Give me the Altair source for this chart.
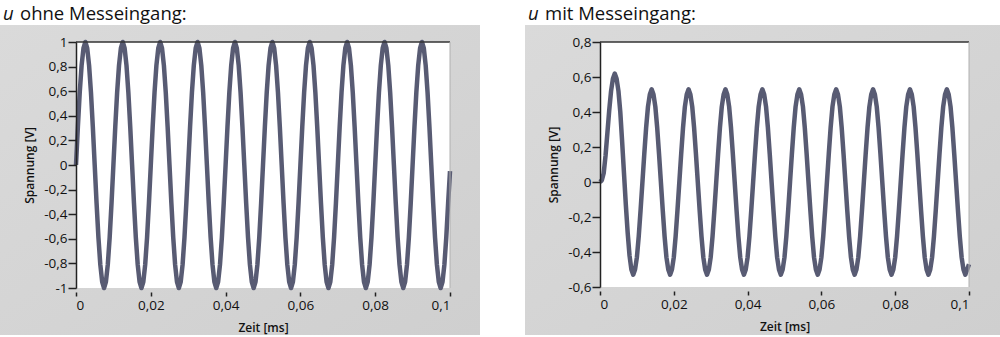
import altair as alt
import pandas as pd

# ---- data ----
zeit = [round(i * 0.0005, 4) for i in range(201)]  # sampling grid, ms

u_ohne = [
    0, 0.31, 0.59, 0.81, 0.95, 1, 0.95, 0.81, 0.59, 0.31, 0, -0.31, -0.59, -0.81, -0.95, -1, -0.95, -0.81, -0.59, -0.31,
    0, 0.31, 0.59, 0.81, 0.95, 1, 0.95, 0.81, 0.59, 0.31, 0, -0.31, -0.59, -0.81, -0.95, -1, -0.95, -0.81, -0.59, -0.31,
    0, 0.31, 0.59, 0.81, 0.95, 1, 0.95, 0.81, 0.59, 0.31, 0, -0.31, -0.59, -0.81, -0.95, -1, -0.95, -0.81, -0.59, -0.31,
    0, 0.31, 0.59, 0.81, 0.95, 1, 0.95, 0.81, 0.59, 0.31, 0, -0.31, -0.59, -0.81, -0.95, -1, -0.95, -0.81, -0.59, -0.31,
    0, 0.31, 0.59, 0.81, 0.95, 1, 0.95, 0.81, 0.59, 0.31, 0, -0.31, -0.59, -0.81, -0.95, -1, -0.95, -0.81, -0.59, -0.31,
    0, 0.31, 0.59, 0.81, 0.95, 1, 0.95, 0.81, 0.59, 0.31, 0, -0.31, -0.59, -0.81, -0.95, -1, -0.95, -0.81, -0.59, -0.31,
    0, 0.31, 0.59, 0.81, 0.95, 1, 0.95, 0.81, 0.59, 0.31, 0, -0.31, -0.59, -0.81, -0.95, -1, -0.95, -0.81, -0.59, -0.31,
    0, 0.31, 0.59, 0.81, 0.95, 1, 0.95, 0.81, 0.59, 0.31, 0, -0.31, -0.59, -0.81, -0.95, -1, -0.95, -0.81, -0.59, -0.31,
    0, 0.31, 0.59, 0.81, 0.95, 1, 0.95, 0.81, 0.59, 0.31, 0, -0.31, -0.59, -0.81, -0.95, -1, -0.95, -0.81, -0.59, -0.31,
    0, 0.31, 0.59, 0.81, 0.95, 1, 0.95, 0.81, 0.59, 0.31, 0, -0.31, -0.59, -0.81, -0.95, -1, -0.95, -0.81, -0.59, -0.31,
    -0.05,
]

u_mit = [
    0.00, 0.01, 0.05, 0.15, 0.28, 0.41, 0.52, 0.59, 0.62, 0.59, 0.52, 0.40, 0.23, 0.05, -0.13, -0.29, -0.42, -0.50, -0.53, -0.50,
    -0.43, -0.31, -0.16, 0, 0.16, 0.31, 0.43, 0.50, 0.53, 0.50, 0.43, 0.31, 0.16, 0, -0.16, -0.31, -0.43, -0.50, -0.53, -0.50,
    -0.43, -0.31, -0.16, 0, 0.16, 0.31, 0.43, 0.50, 0.53, 0.50, 0.43, 0.31, 0.16, 0, -0.16, -0.31, -0.43, -0.50, -0.53, -0.50,
    -0.43, -0.31, -0.16, 0, 0.16, 0.31, 0.43, 0.50, 0.53, 0.50, 0.43, 0.31, 0.16, 0, -0.16, -0.31, -0.43, -0.50, -0.53, -0.50,
    -0.43, -0.31, -0.16, 0, 0.16, 0.31, 0.43, 0.50, 0.53, 0.50, 0.43, 0.31, 0.16, 0, -0.16, -0.31, -0.43, -0.50, -0.53, -0.50,
    -0.43, -0.31, -0.16, 0, 0.16, 0.31, 0.43, 0.50, 0.53, 0.50, 0.43, 0.31, 0.16, 0, -0.16, -0.31, -0.43, -0.50, -0.53, -0.50,
    -0.43, -0.31, -0.16, 0, 0.16, 0.31, 0.43, 0.50, 0.53, 0.50, 0.43, 0.31, 0.16, 0, -0.16, -0.31, -0.43, -0.50, -0.53, -0.50,
    -0.43, -0.31, -0.16, 0, 0.16, 0.31, 0.43, 0.50, 0.53, 0.50, 0.43, 0.31, 0.16, 0, -0.16, -0.31, -0.43, -0.50, -0.53, -0.50,
    -0.43, -0.31, -0.16, 0, 0.16, 0.31, 0.43, 0.50, 0.53, 0.50, 0.43, 0.31, 0.16, 0, -0.16, -0.31, -0.43, -0.50, -0.53, -0.50,
    -0.43, -0.31, -0.16, 0, 0.16, 0.31, 0.43, 0.50, 0.53, 0.50, 0.43, 0.31, 0.16, 0, -0.16, -0.31, -0.43, -0.50, -0.53, -0.50,
    -0.47,
]

x_ticks = [0, 0.02, 0.04, 0.06, 0.08, 0.1]
y_ticks_ohne = [-1, -0.8, -0.6, -0.4, -0.2, 0, 0.2, 0.4, 0.6, 0.8, 1]
y_ticks_mit = [-0.6, -0.4, -0.2, 0, 0.2, 0.4, 0.6, 0.8]

titles = [("u", "ohne Messeingang:"), ("u", "mit Messeingang:")]
x_title = "Zeit [ms]"
y_title = "Spannung [V]"

LINE_COLOR = "#585b73"
FRAME_FILL = alt.Gradient(
    gradient="linear",
    stops=[alt.GradientStop(color="#dadada", offset=0), alt.GradientStop(color="#cfcfcf", offset=1)],
    x1=0, x2=1, y1=0, y2=1,
)
FONT = "Open Sans"
LABEL_EXPR = "replace(replace(datum.label, '.', ','), '\u2212', '-')"


def panel(values, ydom, yticks, width, height, left_ext, right_ext, title_parts):
    df = pd.DataFrame({"Zeit": zeit, "Spannung": values})
    one = alt.Chart(pd.DataFrame({"a": [0]}))

    outer = one.mark_rect(fill="transparent").encode(
        x=alt.value(-left_ext), x2=alt.value(right_ext), y=alt.value(-42), y2=alt.value(295)
    )
    frame = one.mark_rect(fill=FRAME_FILL).encode(
        x=alt.value(-left_ext), x2=alt.value(right_ext), y=alt.value(-17), y2=alt.value(293)
    )
    plot_bg = one.mark_rect(fill="white").encode(
        x=alt.value(0), x2=alt.value(width), y=alt.value(0), y2=alt.value(height)
    )
    top_line = one.mark_rule(color="#333333", strokeWidth=1.5).encode(
        x=alt.value(0), x2=alt.value(width), y=alt.value(0)
    )
    right_line = one.mark_rule(color="#b0b0b0", strokeWidth=1).encode(
        x=alt.value(width), y=alt.value(0), y2=alt.value(height)
    )
    t_u = one.mark_text(
        font=FONT, fontSize=18.5, fontStyle="italic", align="left", baseline="alphabetic", color="#111111"
    ).encode(x=alt.value(-left_ext + 3), y=alt.value(-22), text=alt.value(title_parts[0]))
    t_rest = one.mark_text(
        font=FONT, fontSize=18.5, align="left", baseline="alphabetic", color="#111111"
    ).encode(x=alt.value(-left_ext + 20), y=alt.value(-22), text=alt.value(title_parts[1]))

    line = alt.Chart(df).mark_line(color=LINE_COLOR, strokeWidth=4.5, strokeJoin="round").encode(
        x=alt.X(
            "Zeit:Q",
            scale=alt.Scale(domain=[0, 0.1], nice=False, zero=False),
            axis=alt.Axis(
                title=x_title, values=x_ticks, format="~g", labelExpr=LABEL_EXPR,
                domain=False, offset=4, tickSize=4, tickWidth=1.5, tickColor="#222222",
                labelPadding=2, labelFont=FONT, labelFontSize=13.5, labelFontWeight=500, labelColor="#111111",
                titleFont=FONT, titleFontSize=12, titleFontWeight=600, titleColor="#111111",
                titleY=35, titleBaseline="middle", grid=False, zindex=1,
            ),
        ),
        y=alt.Y(
            "Spannung:Q",
            scale=alt.Scale(domain=ydom, nice=False, zero=False),
            axis=alt.Axis(
                title=y_title, values=yticks, format="~g", labelExpr=LABEL_EXPR,
                domain=True, domainColor="#222222", domainWidth=1.5,
                tickSize=8, tickWidth=1.5, tickColor="#222222",
                labelPadding=1, labelFont=FONT, labelFontSize=13.5, labelFontWeight=500, labelColor="#111111",
                titleFont=FONT, titleFontSize=12, titleFontWeight=600, titleColor="#111111",
                titleX=-47, titleBaseline="middle", grid=False, zindex=1,
            ),
        ),
    )

    return alt.layer(outer, frame, plot_bg, line, top_line, right_line, t_u, t_rest).properties(
        width=width, height=height
    )


left = panel(u_ohne, [-1, 1], y_ticks_ohne, 374, 246, 76, 404, titles[0])
right = panel(u_mit, [-0.6, 0.8], y_ticks_mit, 369, 245, 75, 400, titles[1])

chart = (
    alt.hconcat(left, right, spacing=45)
    .properties(padding=0, background="white")
    .configure_view(stroke=None)
)

chart.save("out.html", embed_options={"renderer": "svg", "actions": False})
